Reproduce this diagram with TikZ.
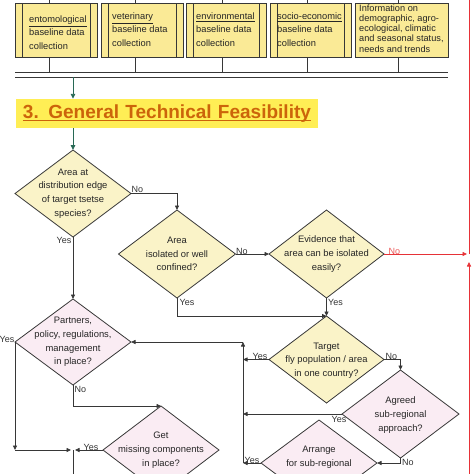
\documentclass[tikz,border=0pt]{standalone}
\usepackage{fontspec}
\setmainfont{Liberation Sans}
\usetikzlibrary{shapes.geometric,arrows.meta,calc}
\newcommand\myThickUl[1]{\leavevmode\setbox0=\hbox{#1}\rlap{\rule[-3pt]{\wd0}{1.4pt}}\box0}
\definecolor{boxfill}{RGB}{250,234,150}
\definecolor{titlefill}{RGB}{255,238,85}
\definecolor{titletext}{RGB}{204,100,10}
\definecolor{dyel}{RGB}{250,243,200}
\definecolor{dpink}{RGB}{250,236,243}
\definecolor{lin}{RGB}{55,55,55}
\definecolor{tealline}{RGB}{40,105,85}
\definecolor{redline}{RGB}{230,50,55}
\definecolor{rednote}{RGB}{235,90,90}
\begin{document}
\begin{tikzpicture}[x=1pt,y=-1pt,
  pbox/.style={draw=lin, line width=0.8pt, fill=boxfill, minimum height=54pt, inner sep=0pt, outer sep=0pt,
    path picture={\draw[lin, line width=0.8pt] ([xshift=7pt]path picture bounding box.north west) -- ([xshift=7pt]path picture bounding box.south west);
                  \draw[lin, line width=0.8pt] ([xshift=-7pt]path picture bounding box.north east) -- ([xshift=-7pt]path picture bounding box.south east);}},
  ibox/.style={draw=lin, line width=0.8pt, fill=boxfill, minimum height=54pt, inner sep=0pt, outer sep=0pt},
  btext/.style={anchor=west, align=left, inner sep=0pt, font=\fontsize{9.3}{13.3}\selectfont, text=black!85},
  dia/.style={diamond, draw=lin, line width=0.8pt, inner sep=0pt, outer sep=0pt},
  dlab/.style={align=center, inner sep=0pt, font=\fontsize{9.4}{13.7}\selectfont, text=black!85},
  ln/.style={draw=lin, line width=0.8pt},
  arr/.style={draw=lin, line width=0.8pt, -{Triangle[length=4.5pt,width=4pt]}},
  tarr/.style={draw=tealline, line width=0.9pt, -{Triangle[length=5pt,width=4.5pt]}},
  rarr/.style={draw=redline, line width=0.8pt, -{Triangle[length=4.5pt,width=4pt]}},
  yn/.style={font=\fontsize{9}{10}\selectfont, text=black!80, inner sep=0.5pt},
  rn/.style={font=\fontsize{9}{10}\selectfont, text=rednote, inner sep=0.5pt}
]
\useasboundingbox (0,0) rectangle (474,474);
\clip (0,0) rectangle (474,474);

% top boxes
\node[pbox, minimum width=82pt] (b1) at (56,30) {};
\node[pbox, minimum width=82pt] (b2) at (142,30) {};
\node[pbox, minimum width=80pt] (b3) at (226,30) {};
\node[pbox, minimum width=81pt] (b4) at (310.5,30) {};
\node[ibox, minimum width=93pt] (b5) at (401.5,30) {};
\node[btext] (bt1) at (29,32.5) {\underline{entomological}\\baseline data\\collection};
\node[btext] (bt2) at (112,29.5) {\underline{veterinary}\\baseline data\\collection};
\node[btext] (bt3) at (196,29.5) {\underline{environmental}\\baseline data\\collection};
\node[btext] (bt4) at (277,29.5) {\underline{socio-economic}\\baseline data\\collection};
\node[btext, font=\fontsize{9.2}{10.2}\selectfont] (bt5) at (359,28.5) {Information on\\demographic, agro-\\ecological, climatic\\and seasonal status,\\needs and trends};

% feeder lines and bus
\coordinate (t1) at (49,0);
\coordinate (t2) at (135,0);
\coordinate (t3) at (222,0);
\coordinate (t4) at (307,0);
\coordinate (t5) at (398,0);
\coordinate (busL) at (15,72);
\coordinate (busR) at (448,72);
\coordinate (busL2) at (15,77);
\coordinate (busR2) at (448,77);
\foreach \i in {1,...,5}{
  \draw[ln] (t\i) -- (t\i |- b\i.north);
  \draw[ln] (t\i |- b\i.south) -- (t\i |- busL);
}
\draw[ln] (busL) -- (busR);
\draw[ln] (busL2) -- (busR2);

% title
\node[fill=titlefill, minimum height=29pt, text width=288pt, inner xsep=7pt, inner ysep=0pt, align=left,
      font=\fontsize{19}{22}\selectfont\bfseries, text=titletext] (title) at (167,113.5)
      {\myThickUl{3. General Technical Feasibility}};

% diamonds
\node[dia, fill=dyel, minimum width=116pt, minimum height=87pt,
      label={[dlab]center:Area at\\distribution edge\\of target tsetse\\species?}] (D1) at (73,193.5) {};
\node[dia, fill=dyel, minimum width=117pt, minimum height=88pt,
      label={[dlab]center:Area\\isolated or well\\confined?}] (D2) at (177,254) {};
\node[dia, fill=dyel, minimum width=115pt, minimum height=88pt,
      label={[dlab]center:Evidence that\\area can be isolated\\easily?}] (D3) at (326.5,254) {};
\node[dia, fill=dyel, minimum width=115pt, minimum height=87pt,
      label={[dlab, yshift=-1pt]center:Target\\fly population / area\\in one country?}] (D4) at (326.5,359.5) {};
\node[dia, fill=dpink, minimum width=116pt, minimum height=86pt,
      label={[dlab]center:Partners,\\policy, regulations,\\management\\in place?}] (D5) at (73,342) {};
\node[dia, fill=dpink, minimum width=116pt, minimum height=88pt,
      label={[dlab]center:Get\\missing components\\in place?}] (D6) at (161,450) {};
\node[dia, fill=dpink, minimum width=117pt, minimum height=88pt,
      label={[dlab, yshift=-1pt]center:Agreed\\sub-regional\\approach?}] (D7) at (400.5,414) {};
\node[dia, fill=dpink, minimum width=116pt, minimum height=86pt,
      label={[dlab, yshift=6pt]center:Arrange\\for sub-regional}] (D8) at (319,463) {};

% teal arrows
\coordinate (busA) at (73,77);
\draw[tarr] (busA) -- (busA |- title.north);
\draw[tarr] (title.south -| D1.north) -- (D1.north);

% connectors
\draw[arr] (D1.east) -| (D2.north);
\node[yn, anchor=south west] (n1) at (D1.east) {No};
\draw[arr] (D1.south) -- (D5.north);
\node[yn, anchor=north east] (y1) at ([xshift=-1pt]D1.south) {Yes};

\draw[arr] (D2.east) -- (D3.west);
\node[yn, anchor=south west] (n2) at ([yshift=-1pt]D2.east) {No};
\draw[arr] (D2.south) |- (D4.north);
\node[yn, anchor=north west] (y2) at ([xshift=2pt,yshift=-1pt]D2.south) {Yes};

\draw[arr] (D3.south) -- (D4.north);
\node[yn, anchor=north west] (y3) at ([xshift=1pt,yshift=-1pt]D3.south) {Yes};

% red route
\coordinate (rtop) at (469,0);
\coordinate (rbot) at (469,474);
\coordinate (rj) at (469,254);
\draw[rarr] (D3.east) -- ([xshift=-2pt]rj);
\draw[rarr] (rbot) -- ($(rj)+(0,8)$);
\draw[draw=redline, line width=0.8pt] (rj) -- (rtop);
\node[rn, anchor=south west] (n3) at ([xshift=4pt,yshift=-1pt]D3.east) {No};

% collector
\coordinate (col) at (243,342);
\coordinate (colb) at (243,463);
\draw[arr] (D4.west) -- (D4.west -| col);
\node[yn, anchor=south east] (y4) at ([xshift=-1pt,yshift=-1pt]D4.west) {Yes};
\draw[arr] (D4.east) -| (D7.north);
\node[yn, anchor=south west] (n4) at ([xshift=1pt,yshift=-1pt]D4.east) {No};
\draw[arr] (D7.west) -- (D7.west -| col);
\node[yn, anchor=north east] (y7) at ([xshift=5pt,yshift=-2pt]D7.west) {Yes};
\draw[arr] (D7.south) |- (D8.east);
\node[yn, anchor=north west] (n7) at ([xshift=1pt,yshift=-1pt]D7.south) {No};
\draw[arr] (D8.west) -- (D8.west -| col);
\node[yn, anchor=south east] (y8) at ([xshift=-1pt,yshift=-1pt]D8.west) {Yes};
\draw[arr] (colb) -- (col);
\draw[arr] (col) -- (D5.east);

% partners branches
\coordinate (m) at (73,450);
\coordinate (mb) at (73,474);
\draw[arr] (D5.west) -- (D5.west |- m);
\draw[arr] (D5.west |- m) -- ([xshift=-2pt]m);
\node[yn, anchor=south east] (y5) at ([xshift=0pt,yshift=-1pt]D5.west) {Yes};
\draw[arr] (D5.south) |- (D6.north);
\node[yn, anchor=north west] (n5) at ([xshift=1pt,yshift=-1pt]D5.south) {No};
\draw[arr] (D6.west) -- ([xshift=2pt]m);
\node[yn, anchor=south] (y6) at ([xshift=-12pt,yshift=-1pt]D6.west) {Yes};
\draw[ln] (m) -- (mb);
\end{tikzpicture}
\end{document}
